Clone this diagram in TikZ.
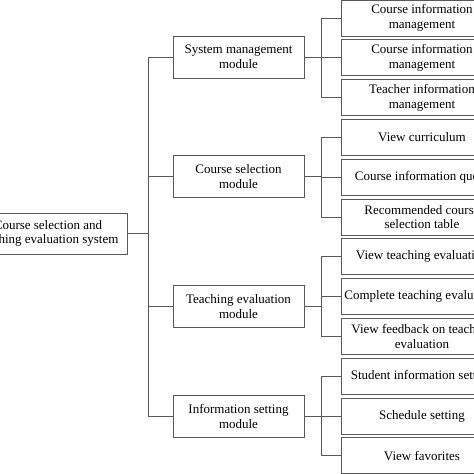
\documentclass[tikz,border=0pt]{standalone}
\usepackage{fontspec}
\setmainfont{Liberation Serif}
\tikzset{
	box/.style={draw=black!65, line width=0.9pt, align=center, inner sep=0pt, font=\fontsize{13}{14.5}\selectfont},
	modbox/.style={box, minimum width=131pt, minimum height=42pt},
	leafbox/.style={box, minimum width=162pt, minimum height=36pt},
	link/.style={draw=black!65, line width=0.9pt},
}
\begin{document}
\begin{tikzpicture}[x=1pt,y=-1pt]
	\useasboundingbox (0,0) rectangle (474,474);
	\clip (0,0) rectangle (474,474);
	
	\node[box, minimum width=158pt, minimum height=41pt] (root) at (48,233.5) {Course selection and\\teaching evaluation system};
	
	\node[modbox] (m0) at (238.5,57) {System management\\module};
	\node[modbox] (m1) at (238.5,176.5) {Course selection\\module};
	\node[modbox] (m2) at (238.5,306.5) {Teaching evaluation\\module};
	\node[modbox] (m3) at (238.5,416.5) {Information setting\\module};
	
	\foreach \txt [count=\k from 0] in {
		{Course information\\management},
		{Course information\\management},
		{Teacher information\\management},
		{View curriculum},
		{Course information query},
		{Recommended course\\selection table},
		{View teaching evaluation},
		{Complete teaching evaluation},
		{View feedback on teaching\\evaluation},
		{Student information setting},
		{Schedule setting},
		{View favorites}}
	\node[leafbox] (l\k) at (422,18+39.8*\k) {\txt};
	
	\coordinate (trunk) at (148,0);
	\coordinate (brk) at (321,0);
	
	\draw[link] (root.east) -- (root.east -| trunk);
	\draw[link] (m0.west) -- (m0.west -| trunk) -- (m3.west -| trunk) -- (m3.west);
	\foreach \g in {1,2}
	\draw[link] (m\g.west) -- (m\g.west -| trunk);
	
	\foreach \g in {0,...,3} {
		\pgfmathtruncatemacro\a{3*\g}
		\pgfmathtruncatemacro\b{3*\g+1}
		\pgfmathtruncatemacro\c{3*\g+2}
		\draw[link] (m\g.east) -- (m\g.east -| brk);
		\draw[link] (l\a.west) -- (l\a.west -| brk) -- (l\c.west -| brk) -- (l\c.west);
		\draw[link] (l\b.west) -- (l\b.west -| brk);
	}
\end{tikzpicture}
\end{document}
